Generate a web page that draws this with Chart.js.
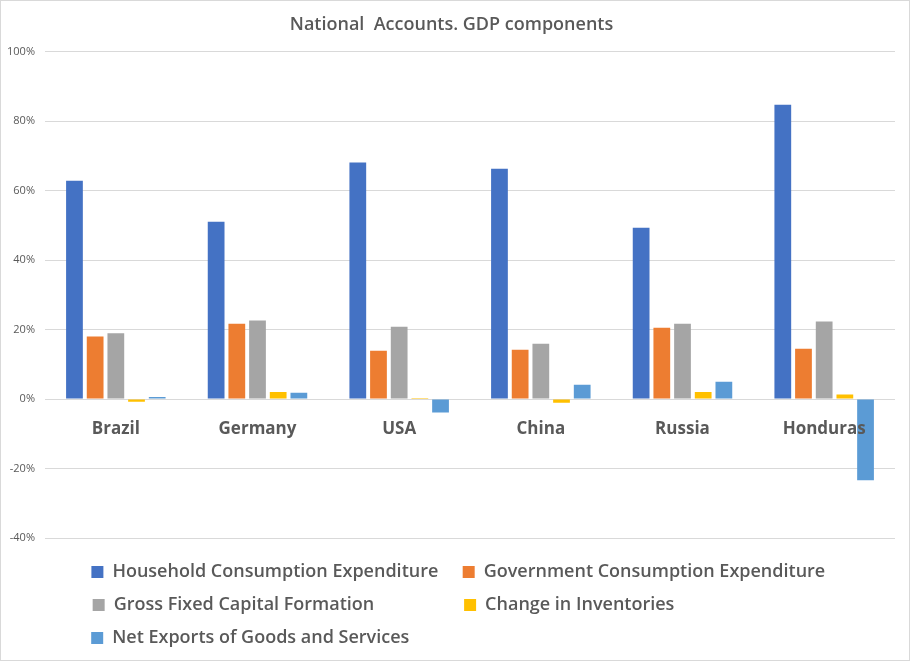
<!DOCTYPE html>
<html>
<head>
<meta charset="utf-8">
<script src="https://cdn.jsdelivr.net/npm/chart.js@4/dist/chart.umd.min.js"></script>
<style>
  body { margin: 0; background: #fff; }
  #wrap { width: 910px; height: 661px; box-sizing: border-box; border: 1px solid #d9d9d9; }
</style>
</head>
<body>
<div id="wrap"><canvas id="gdpChart"></canvas></div>
<script>
// Chart data (percent of GDP)
const countries = ['Brazil', 'Germany', 'USA', 'China', 'Russia', 'Honduras'];
const household = [62.8, 51.0, 68.1, 66.3, 49.3, 84.7];
const government = [18.0, 21.7, 13.9, 14.2, 20.5, 14.5];
const grossCapital = [18.9, 22.6, 20.8, 15.9, 21.7, 22.3];
const inventories = [-0.8, 2.0, 0.3, -1.1, 2.0, 1.3];
const netExports = [0.6, 1.8, -3.9, 4.1, 5.0, -23.4];
const yTicks = [-40, -20, 0, 20, 40, 60, 80, 100];

const textColor = '#595959';
const gridColor = '#d9d9d9';
const legendFont = { family: 'Open Sans', size: 18, weight: '600' };
const boxSize = 12;
const itemGap = 15;

// pad legend labels with spaces so the rows line up as two columns
const measureCtx = document.createElement('canvas').getContext('2d');
measureCtx.font = legendFont.weight + ' ' + legendFont.size + 'px "' + legendFont.family + '"';
function textWidth(t) { return measureCtx.measureText(t).width; }
function padTo(t, w) {
    while (textWidth(t + ' ') <= w) t += ' ';
    return t;
}
const col1W = Math.max(textWidth('Household Consumption Expenditure'), textWidth('Gross Fixed Capital Formation')) + 10;
// extra trailing room on the right column nudges the centred rows left a bit
const col2W = Math.max(textWidth('Government Consumption Expenditure'), textWidth('Change in Inventories')) + 24;
const fullW = boxSize + legendFont.size / 2 + col1W + col2W + itemGap;

const ctx = document.getElementById('gdpChart').getContext('2d');
const chart = new Chart(ctx, {
    type: 'bar',
    data: {
        labels: countries,
        datasets: [
            { label: 'Household Consumption Expenditure', data: household, backgroundColor: '#4472C4', legendW: col1W },
            { label: 'Government Consumption Expenditure', data: government, backgroundColor: '#ED7D31', legendW: col2W },
            { label: 'Gross Fixed Capital Formation', data: grossCapital, backgroundColor: '#A5A5A5', legendW: col1W },
            { label: 'Change in Inventories', data: inventories, backgroundColor: '#FFC000', legendW: col2W },
            { label: 'Net Exports of Goods and Services', data: netExports, backgroundColor: '#5B9BD5', legendW: fullW }
        ]
    },
    options: {
        responsive: true,
        maintainAspectRatio: false,
        animation: false,
        categoryPercentage: 0.73,
        barPercentage: 0.81,
        layout: { padding: { left: 7, right: 14, top: 0, bottom: 3 } },
        scales: {
            x: {
                position: { y: 0 },
                grid: { display: false, drawTicks: false },
                border: { display: false },
                ticks: {
                    z: 1,
                    color: textColor,
                    padding: 20,
                    font: { family: 'Open Sans', size: 17, weight: 'bold' }
                }
            },
            y: {
                min: -40,
                max: 100,
                afterBuildTicks: axis => { axis.ticks = yTicks.map(v => ({ value: v })); },
                afterFit: axis => { axis.width = 37; },
                grid: { color: gridColor, drawTicks: false },
                border: { display: false },
                ticks: {
                    color: textColor,
                    padding: 10,
                    font: { family: 'Open Sans', size: 11 },
                    callback: v => v + '%'
                }
            }
        },
        plugins: {
            title: {
                display: true,
                text: 'National  Accounts. GDP components',
                color: textColor,
                font: { family: 'Open Sans', size: 18, weight: '600' },
                padding: { top: 13, bottom: 16 }
            },
            legend: {
                position: 'bottom',
                align: 'center',
                fullSize: false,
                title: { display: true, text: '', font: { size: 1, lineHeight: 1 }, padding: { top: 9, bottom: 0 } },
                labels: {
                    color: textColor,
                    font: legendFont,
                    boxWidth: boxSize,
                    boxHeight: boxSize,
                    padding: itemGap,
                    generateLabels: function(chart) {
                        return chart.data.datasets.map((ds, i) => ({
                            text: padTo(ds.label, ds.legendW),
                            fillStyle: ds.backgroundColor,
                            strokeStyle: ds.backgroundColor,
                            lineWidth: 0,
                            fontColor: textColor,
                            hidden: !chart.isDatasetVisible(i),
                            datasetIndex: i
                        }));
                    }
                }
            },
            tooltip: { enabled: false }
        }
    }
});
</script>
</body>
</html>
